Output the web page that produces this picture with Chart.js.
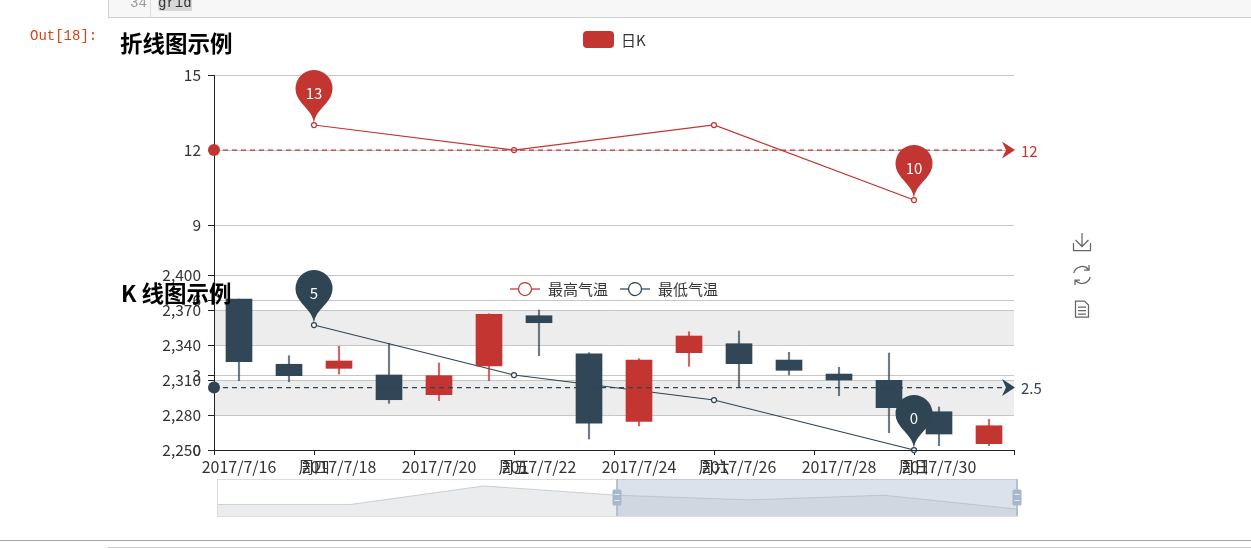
<!DOCTYPE html>
<html>
<head>
<meta charset="utf-8">
<script src="https://cdn.jsdelivr.net/npm/chart.js@4"></script>
<style>
    html, body { margin: 0; padding: 0; background: #fff; width: 1251px; height: 548px; overflow: hidden; }
    body { position: relative; font-family: "Noto Sans CJK SC", sans-serif; }
    .abs { position: absolute; white-space: nowrap; }
    .cellInput { left: 108px; top: -2px; right: -2px; height: 18px; background: #f7f7f7; border: 1px solid #cfcfcf; }
    .gutter { left: 150px; top: 0; width: 1px; height: 17px; background: #ddd; }
    .mono { font-family: "Liberation Mono", monospace; font-size: 14px; line-height: 16px; }
    .title { font-weight: bold; font-size: 22.5px; line-height: 26px; color: #000; }
    .legendText { font-size: 15px; line-height: 20px; color: #333; }
</style>
</head>
<body>
<canvas id="chartGrid" class="abs" style="left:0;top:0" width="1251" height="548"></canvas>
<canvas id="chartZoom" class="abs" style="left:207px;top:475px" width="820" height="45"></canvas>

<!-- celula do notebook -->
<div class="abs cellInput"></div>
<div class="abs gutter"></div>
<div class="abs mono" style="left:130px;top:-5px;color:#999">34</div>
<div class="abs mono" style="left:158px;top:-5px;color:#333;background:#d7d7d7">grid</div>
<div class="abs mono" style="left:30px;top:28px;color:#d84315">Out[18]:</div>
<div class="abs" style="left:0;top:540px;width:1251px;height:1px;background:#aaa"></div>
<div class="abs" style="left:108px;top:547px;width:1143px;height:1px;background:#ccc"></div>

<!-- titulos -->
<div class="abs title" style="left:120px;top:29px">折线图示例</div>
<div class="abs title" style="left:121px;top:279px">K 线图示例</div>

<!-- legendas -->
<svg class="abs" style="left:583px;top:31px" width="32" height="18"><rect width="31" height="17" rx="4" fill="#c23531"/></svg>
<div class="abs legendText" style="left:621px;top:30px">日K</div>
<svg class="abs" style="left:510px;top:281px" width="32" height="16">
    <line x1="0" y1="8" x2="30" y2="8" stroke="#c23531" stroke-width="1.25"/><circle cx="15" cy="8" r="6.5" fill="#fff" stroke="#c23531" stroke-width="1.25"/>
</svg>
<div class="abs legendText" style="left:548px;top:279px">最高气温</div>
<svg class="abs" style="left:620px;top:281px" width="32" height="16">
    <line x1="0" y1="8" x2="30" y2="8" stroke="#2f4554" stroke-width="1.25"/><circle cx="15" cy="8" r="6.5" fill="#fff" stroke="#2f4554" stroke-width="1.25"/>
</svg>
<div class="abs legendText" style="left:658px;top:279px">最低气温</div>

<!-- toolbox -->
<svg class="abs" style="left:1070px;top:230px" width="24" height="92" fill="none" stroke="#666" stroke-width="1.25">
    <path d="M3.500 13v7.500h17V13M12 3v13M5.500 10l6.500 6.500l6.500-6.500"/>
    <path d="M3.800 43a8.500 8.500 0 0 1 14.700-3.500M20.200 47a8.500 8.500 0 0 1-14.700 3.500M19 35v5h-5M5 55v-5h5"/>
    <path d="M5.500 71h9l4 4v12h-13zM8 77h8M8 80.500h8M8 84h8"/>
</svg>

<script>
// ========== Dados ==========
const weekLabels = ['周四', '周五', '周六', '周日'];
const highTemps = [13, 12, 13, 10];
const lowTemps = [5, 3, 2, 0];
const tempTicks = [0, 3, 6, 9, 12, 15];

const kDays = ['2017/7/16', '2017/7/17', '2017/7/18', '2017/7/19', '2017/7/20', '2017/7/21', '2017/7/22', '2017/7/23',
    '2017/7/24', '2017/7/25', '2017/7/26', '2017/7/27', '2017/7/28', '2017/7/29', '2017/7/30', '2017/7/31'];
const kOpen = [2379.4, 2323.5, 2320.0, 2314.3, 2297.4, 2322.0, 2365.1, 2332.5, 2274.6, 2333.4, 2341.1, 2327.1, 2315.1, 2309.7, 2282.8, 2255.4];
const kClose = [2325.7, 2313.7, 2326.3, 2293.1, 2313.7, 2366.3, 2359.1, 2273.1, 2327.1, 2347.7, 2324.0, 2318.3, 2310.0, 2286.3, 2263.7, 2270.8];
const kLow = [2309.4, 2308.5, 2315.1, 2290.0, 2292.3, 2309.4, 2330.8, 2259.4, 2270.6, 2321.7, 2304.0, 2314.3, 2296.5, 2264.8, 2253.7, 2253.7];
const kHigh = [2379.4, 2330.8, 2338.9, 2341.5, 2324.6, 2366.8, 2370.0, 2333.4, 2328.3, 2351.4, 2352.0, 2333.7, 2320.9, 2333.1, 2286.9, 2276.3];
const kTicks = [2250, 2280, 2310, 2340, 2370, 2400];
const kBands = [[2280, 2310], [2340, 2370]];

const zoomShadow = [11, 11, 15, 13, 12, 13, 10];
const zoomStartIndex = 3;

const RED = '#c23531';
const DARK = '#2f4554';
const BODY_DARK = '#314656';
const FONT = '"Noto Sans CJK SC", sans-serif';
const tickFont = { family: FONT, size: 15.5 };
const dayFont = { family: FONT, size: 16 };

// o eixo K so ocupa a parte de baixo do grid (2250 em y=450, 2400 em y=275)
const K_AXIS_MAX = 2250 + 375 * 30 / 35;

const candleColors = kOpen.map((o, i) => (kClose[i] > o ? RED : BODY_DARK));
const wickColors = kOpen.map((o, i) => (kClose[i] > o ? 'rgba(194,53,49,0.75)' : 'rgba(47,69,84,0.7)'));

function zeroHeight(scale) { scale.height = 0; }
function zeroWidth(scale) { scale.width = 0; }

function pinPath(ctx, x, y) {
    const r = 18.5, h = 62.7;
    const dy = r * r / (h - r);
    const cy = y - h + r + dy;
    const angle = Math.asin(dy / r);
    const dx = Math.cos(angle) * r;
    const tanX = Math.sin(angle), tanY = Math.cos(angle);
    ctx.beginPath();
    ctx.moveTo(x - dx, cy + dy);
    ctx.arc(x, cy, r, Math.PI - angle, Math.PI * 2 + angle);
    ctx.bezierCurveTo(x + dx - tanX * r * 0.6, cy + dy + tanY * r * 0.6, x, y - r * 0.7, x, y);
    ctx.bezierCurveTo(x, y - r * 0.7, x - dx + tanX * r * 0.6, cy + dy + tanY * r * 0.6, x - dx, cy + dy);
    ctx.closePath();
}

function drawPin(chart, index, value, color) {
    const ctx = chart.ctx;
    const x = chart.scales.xWeek.getPixelForValue(index);
    const y = chart.scales.yTemp.getPixelForValue(value);
    ctx.save();
    pinPath(ctx, x, y);
    ctx.fillStyle = color;
    ctx.fill();
    ctx.fillStyle = '#fff';
    ctx.font = '15px ' + FONT;
    ctx.textAlign = 'center';
    ctx.textBaseline = 'middle';
    ctx.fillText(String(value), x, y - 32);
    ctx.restore();
}

function drawAverageLine(chart, values, color) {
    const ctx = chart.ctx;
    const area = chart.chartArea;
    const avg = values.reduce((s, v) => s + v, 0) / values.length;
    const y = chart.scales.yTemp.getPixelForValue(avg);
    ctx.save();
    ctx.strokeStyle = color;
    ctx.fillStyle = color;
    ctx.lineWidth = 1.25;
    ctx.setLineDash([5, 4]);
    ctx.beginPath();
    ctx.moveTo(area.left, y);
    ctx.lineTo(area.right - 8, y);
    ctx.stroke();
    ctx.setLineDash([]);
    ctx.beginPath();
    ctx.arc(area.left, y, 6, 0, Math.PI * 2);
    ctx.fill();
    // seta no fim da linha
    ctx.beginPath();
    ctx.moveTo(area.right + 1, y);
    ctx.lineTo(area.right - 12, y - 8.5);
    ctx.lineTo(area.right - 8, y);
    ctx.lineTo(area.right - 12, y + 8.5);
    ctx.closePath();
    ctx.fill();
    ctx.font = '15px ' + FONT;
    ctx.textAlign = 'left';
    ctx.textBaseline = 'middle';
    ctx.fillText(String(avg), area.right + 7, y + 1);
    ctx.restore();
}

const bandsPlugin = {
    id: 'bands',
    // os eixos tem tamanho zero no layout; abre a caixa deles para os rotulos nao serem cortados
    afterLayout(chart) {
        Object.values(chart.scales).forEach(scale => {
            if (scale.isHorizontal()) scale.bottom = chart.height;
            else scale.left = 0;
        });
    },
    beforeDraw(chart) {
        const { ctx, chartArea, scales } = chart;
        ctx.save();
        ctx.fillStyle = 'rgba(0,0,0,0.072)';
        kBands.forEach(([a, b]) => {
            const top = scales.yK.getPixelForValue(b);
            const bottom = scales.yK.getPixelForValue(a);
            ctx.fillRect(chartArea.left, top, chartArea.right - chartArea.left, bottom - top);
        });
        ctx.restore();
    }
};

const marksPlugin = {
    id: 'marks',
    afterDatasetsDraw(chart) {
        drawAverageLine(chart, highTemps, RED);
        drawAverageLine(chart, lowTemps, DARK);
        drawPin(chart, highTemps.indexOf(Math.max(...highTemps)), Math.max(...highTemps), RED);
        drawPin(chart, highTemps.indexOf(Math.min(...highTemps)), Math.min(...highTemps), RED);
        drawPin(chart, lowTemps.indexOf(Math.max(...lowTemps)), Math.max(...lowTemps), DARK);
        drawPin(chart, lowTemps.indexOf(Math.min(...lowTemps)), Math.min(...lowTemps), DARK);
    }
};

function tempDataset(label, data, color) {
    return {
        type: 'line', label, data, order: 3, xAxisID: 'xWeek', yAxisID: 'yTemp',
        borderColor: color, borderWidth: 1.25, tension: 0, clip: false,
        pointRadius: 2.5, pointBackgroundColor: '#fff', pointBorderColor: color, pointBorderWidth: 1.25
    };
}

// ===== Grid: linhas + candles =====
new Chart(document.getElementById('chartGrid'), {
    data: {
        labels: kDays,
        datasets: [
            tempDataset('最高气温', highTemps, RED),
            tempDataset('最低气温', lowTemps, DARK),
            {
                type: 'bar', label: '日K sombra', order: 2, xAxisID: 'xDay', yAxisID: 'yK', grouped: false,
                data: kLow.map((l, i) => [l, kHigh[i]]),
                backgroundColor: wickColors, barThickness: 1.5
            },
            {
                type: 'bar', label: '日K', order: 1, xAxisID: 'xDay', yAxisID: 'yK', grouped: false,
                data: kOpen.map((o, i) => [o, kClose[i]]),
                backgroundColor: candleColors, barThickness: 26
            }
        ]
    },
    options: {
        responsive: false,
        animation: false,
        layout: { padding: { left: 214, right: 237, top: 75, bottom: 98 } },
        plugins: { legend: { display: false }, tooltip: { enabled: false } },
        scales: {
            xDay: {
                type: 'category', position: 'bottom', labels: kDays, offset: true, afterFit: zeroHeight,
                border: { color: '#222', width: 1, z: 2 },
                grid: {
                    drawOnChartArea: false, tickLength: 5, tickWidth: 1,
                    tickColor: ctx => ((ctx.index || 0) % 2 === 0 ? '#222' : 'rgba(0,0,0,0)')
                },
                ticks: {
                    autoSkip: false, maxRotation: 0, minRotation: 0, color: '#333', font: dayFont, padding: 2,
                    callback: (v, i) => (i % 2 === 0 ? kDays[i] : '')
                }
            },
            xWeek: {
                type: 'category', position: 'bottom', labels: weekLabels, offset: true, afterFit: zeroHeight,
                border: { display: false },
                grid: { drawOnChartArea: false, tickLength: 5, tickColor: 'rgba(0,0,0,0)' },
                ticks: { autoSkip: false, maxRotation: 0, minRotation: 0, color: '#333', font: tickFont, padding: 3 }
            },
            yTemp: {
                type: 'linear', position: 'left', min: 0, max: 15, afterFit: zeroWidth,
                afterBuildTicks: scale => { scale.ticks = tempTicks.map(value => ({ value })); },
                border: { color: '#222', width: 1 },
                grid: { color: '#c6c6c6', lineWidth: 1, tickColor: '#222', tickLength: 6 },
                ticks: { color: '#333', font: tickFont, padding: 7 }
            },
            yK: {
                type: 'linear', position: 'left', min: 2250, max: K_AXIS_MAX, afterFit: zeroWidth,
                afterBuildTicks: scale => { scale.ticks = kTicks.map(value => ({ value })); },
                border: { color: '#222', width: 1 },
                grid: { color: '#c6c6c6', lineWidth: 1, tickColor: '#222', tickLength: 6 },
                ticks: { color: '#333', font: tickFont, padding: 7, callback: v => v.toLocaleString('en-US') }
            }
        }
    },
    plugins: [bandsPlugin, marksPlugin]
});

// ===== Slider do dataZoom =====
const sliderPlugin = {
    id: 'slider',
    afterDatasetsDraw(chart) {
        const { ctx, chartArea, scales } = chart;
        const x0 = scales.x.getPixelForValue(zoomStartIndex);
        const x1 = scales.x.getPixelForValue(zoomShadow.length - 1);
        const h = chartArea.bottom - chartArea.top;
        ctx.save();
        ctx.strokeStyle = '#ddd';
        ctx.strokeRect(chartArea.left + 0.5, chartArea.top + 0.5, chartArea.right - chartArea.left, h);
        ctx.fillStyle = 'rgba(167,183,204,0.4)';
        ctx.fillRect(x0, chartArea.top, x1 - x0, h);
        [x0, x1].forEach(x => {
            ctx.fillStyle = '#a7b7cc';
            ctx.fillRect(x - 0.75, chartArea.top, 1.5, h);
            ctx.beginPath();
            ctx.roundRect(x - 4.5, chartArea.top + 10.5, 9, 16, 1.5);
            ctx.fill();
            ctx.fillStyle = '#e8edf3';
            ctx.fillRect(x - 2.5, chartArea.top + 15, 5, 1);
            ctx.fillRect(x - 2.5, chartArea.top + 21, 5, 1);
        });
        ctx.restore();
    }
};

new Chart(document.getElementById('chartZoom'), {
    type: 'line',
    data: {
        labels: zoomShadow.map((v, i) => i),
        datasets: [{
            data: zoomShadow,
            borderColor: 'rgba(47,69,84,0.22)',
            backgroundColor: 'rgba(47,69,84,0.1)',
            borderWidth: 1, pointRadius: 0, tension: 0, fill: 'start'
        }]
    },
    options: {
        responsive: false,
        animation: false,
        layout: { padding: { left: 10, right: 10, top: 4, bottom: 4 } },
        plugins: { legend: { display: false }, tooltip: { enabled: false } },
        scales: {
            x: { display: false },
            y: { display: false, min: 8.5, max: 16.5 }
        }
    },
    plugins: [sliderPlugin]
});
</script>
</body>
</html>
